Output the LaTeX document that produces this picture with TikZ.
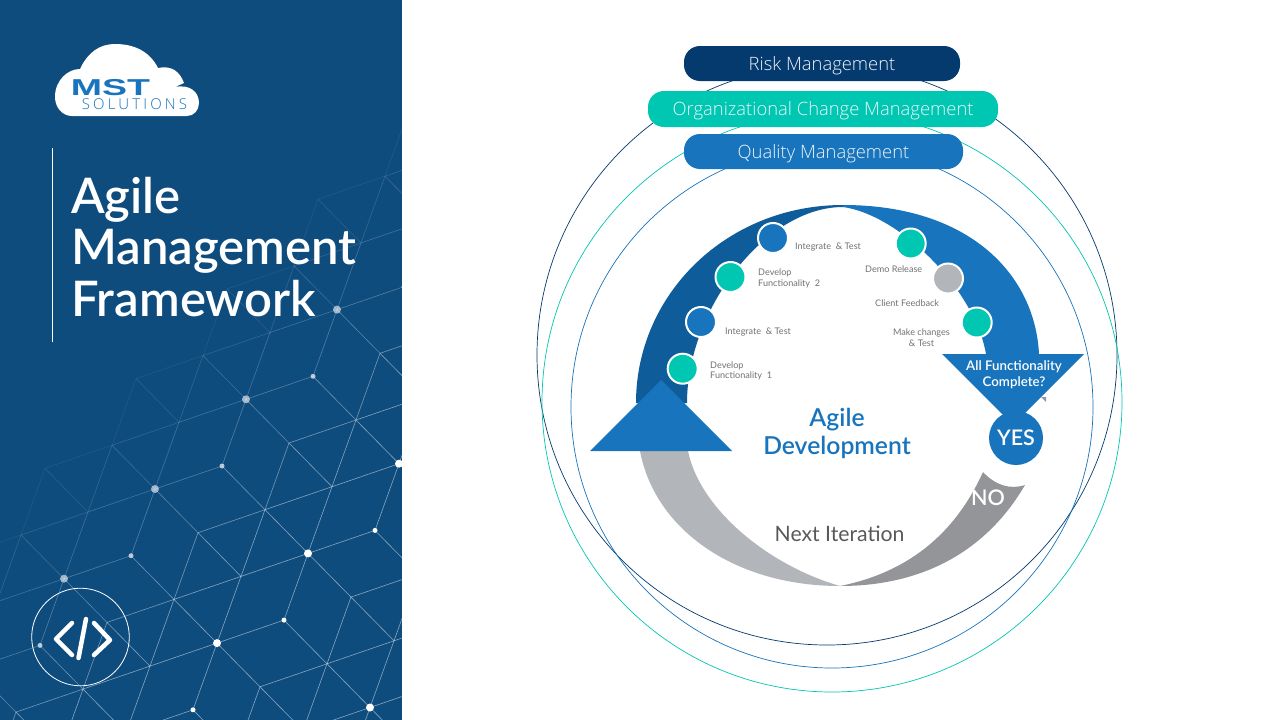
\documentclass[tikz,border=0pt]{standalone}
\usepackage{fontspec}
\usepackage{graphicx}
\setmainfont{Lato}
\newfontfamily\medfont{Lato Semibold}
\newfontfamily\pillfont{Open Sans Light}
\newfontfamily\logomark{Liberation Sans}
\newfontfamily\logothin[LetterSpace=21]{Open Sans Light}
\usetikzlibrary{arrows.meta, positioning}
\definecolor{panelblue}{HTML}{0F4C7E}
\definecolor{navy}{HTML}{043A6E}
\definecolor{teal}{HTML}{00C7B1}
\definecolor{agile}{HTML}{1874BC}
\definecolor{agiledark}{HTML}{0E5C9A}
\definecolor{iterlight}{HTML}{B2B6BA}
\definecolor{iterdark}{HTML}{939598}
\definecolor{labelgray}{HTML}{58595B}
\tikzset{
    pill/.style={rounded corners=16pt, inner sep=0pt, text=white!92!agile,
        text height=17.5pt, text depth=4pt,
        font=\pillfont\fontsize{18.4}{20}\selectfont},
    stepdot/.style={circle, draw=white, line width=2pt, minimum size=30pt, inner sep=0pt},
    steplabel/.style={font=\fontsize{9.1}{10.5}\selectfont, text=labelgray!85, inner sep=0pt},
    ringline/.style={line width=0.7pt},
    netline/.style={white, line width=0.6pt},
}
\begin{document}
\begin{tikzpicture}[x=1pt, y=-1pt]
    \useasboundingbox (0,0) rectangle (1280,720);
    \fill[white] (0,0) rectangle (1280,720);

    % Left panel with lattice
    \fill[panelblue] (0,0) rectangle (402,720);
    \begin{scope}
        \clip (0,0) rectangle (402,720);
        \foreach \m in {-9,...,12} {
            \foreach \n in {-9,...,11} {
                \pgfmathsetmacro{\xa}{155+24*\m+43*\n}
                \pgfmathsetmacro{\ya}{489-66.7*\m+43.7*\n}
                \pgfmathtruncatemacro{\k}{mod(\m+3*\n+100,5)}
                \foreach \dm/\dn/\gap in {1/1/4, 1/0/3, 0/1/1} {
                    \pgfmathsetmacro{\xb}{\xa+24*\dm+43*\dn}
                    \pgfmathsetmacro{\yb}{\ya-66.7*\dm+43.7*\dn}
                    \pgfmathsetmacro{\low}{min(\xa+\ya,\xb+\yb)}
                    \pgfmathsetmacro{\op}{min(0.5,max(0.07,((\xa+\ya+\xb+\yb)/2-490)/620))}
                    \ifnum\k=\gap\else
                        \pgfmathparse{\low>510 ? 1 : 0}
                        \ifnum\pgfmathresult=1
                            \draw[netline, opacity=\op] (\xa,\ya) -- (\xb,\yb);
                        \fi
                    \fi
                }
                % Dots at the joints
                \pgfmathparse{\xa+\ya>510 ? 1 : 0}
                \ifnum\pgfmathresult=1
                    \pgfmathsetmacro{\dotop}{min(1,(\xa+\ya-350)/500)}
                    \ifnum\k=0
                        \fill[white, opacity=\dotop] (\xa,\ya) circle (4pt);
                    \fi
                    \ifnum\k=4
                        \fill[white, opacity=\dotop] (\xa,\ya) circle (2.5pt);
                    \fi
                \fi
            }
        }
    \end{scope}

    % Logo
    \fill[white] (72,116) .. controls (62,116) and (55,107) .. (55,97)
        .. controls (55,80) and (68,69) .. (80,69)
        .. controls (88,52) and (100,44) .. (115,44)
        .. controls (135,44) and (150,52) .. (158,68)
        .. controls (172,65) and (180,72) .. (184,83)
        -- (175,87) .. controls (190,84) and (199,92) .. (199,103)
        .. controls (199,110) and (194,116) .. (187,116) -- cycle;
    \node[font=\logomark\bfseries\fontsize{23}{23}\selectfont, text=agile, inner sep=0pt] (logomst) at (110.5,87.5) {\scalebox{1.63}[1]{MST}};
    \node[font=\logothin\fontsize{15}{15}\selectfont, text=agile, inner sep=0pt] (logosol) at (134.5,104.5) {SOLUTIONS};

    % Title
    \draw[white, line width=0.8pt] (52.5,148) -- (52.5,342);
    \node[font=\medfont\fontsize{49}{51.5}\selectfont, text=white, align=left, anchor=west, inner sep=0pt] (title) at (71,247) {Agile\\Management\\Framework};

    % Code icon
    \draw[white, line width=0.8pt] (80.5,637) circle (48.8pt);
    \draw[white, line width=4.5pt, line cap=round, line join=round]
        (72,623) -- (56,639) -- (72,655)
        (86,619) -- (78.5,658)
        (94,623) -- (110,640) -- (94,655);

    % Big circles
    \draw[navy, ringline] (827,355) circle (290pt);
    \draw[teal, ringline] (832,402) circle (290pt);
    \draw[agile, ringline] (832,407) circle (261pt);

    % Management bars
    \node[pill, fill=navy, minimum width=276pt, minimum height=35pt] (risk) at (822,63.5) {Risk Management};
    \node[pill, fill=teal, minimum width=350pt, minimum height=36pt] (change) at (823,109) {Organizational Change Management};
    \node[pill, fill=agile, minimum width=279pt, minimum height=35pt] (quality) at (823.5,151.5) {Quality Management};

    % Return arc
    \fill[iterlight] (640,451) .. controls (655,530) and (735,586) .. (840,586)
        .. controls (770,566) and (700,510) .. (688,451) -- cycle;
    \fill[iterdark] (840,586) .. controls (930,586) and (990,545) .. (1025,485)
        .. controls (1010,490) and (995,485) .. (983,472)
        .. controls (950,545) and (895,575) .. (840,586) -- cycle;

    % Forward arc
    \fill[agiledark] (636,403) .. controls (636,294) and (727,205) .. (843,205)
        -- (843,207) .. controls (765,207) and (687,310) .. (687,403) -- cycle;
    \fill[agile] (843,207) .. controls (900,215) and (975,290) .. (986,354)
        -- (1039,354) .. controls (1035,275) and (970,205) .. (843,205) -- cycle;
    \fill[agile] (661,380) -- (732,451) -- (590,451) -- cycle;
    \fill[agile] (942,354) -- (1084,354) -- (1013,425) -- cycle;
    \fill[iterdark] (1041,397) -- (1046,397) -- (1046,402) -- cycle;
    \node[circle, fill=agile, minimum size=54pt, inner sep=0pt, font=\medfont\fontsize{21.5}{21}\selectfont, text=white] (yes) at (1016,438) {YES};

    % Steps on the arc
    \node[stepdot, fill=teal] (dev1) at (682.7,368.7) {};
    \node[stepdot, fill=agile] (int1) at (701,322) {};
    \node[stepdot, fill=teal] (dev2) at (730.5,277) {};
    \node[stepdot, fill=agile] (int2) at (773,238) {};
    \node[stepdot, fill=teal] (demo) at (910.7,243.5) {};
    \node[stepdot, fill=iterlight] (feedback) at (948,278.5) {};
    \node[stepdot, fill=teal] (changes) at (976.7,322.5) {};

    % Step labels
    \node[steplabel, align=left, anchor=west] (ldev1) at (710,371) {Develop\\Functionality\ \ 1};
    \node[steplabel, anchor=west] (lint1) at (725,332.5) {Integrate\ \ \&\ Test};
    \node[steplabel, align=left, anchor=west] (ldev2) at (758,278.5) {Develop\\Functionality\ \ 2};
    \node[steplabel, anchor=west] (lint2) at (795,247.5) {Integrate\ \ \&\ Test};
    \node[steplabel, anchor=west] (ldemo) at (865,269.5) {Demo Release};
    \node[steplabel, anchor=west] (lfeed) at (875,303.5) {Client Feedback};
    \node[steplabel, align=center] (lmake) at (921.5,337.5) {Make changes\\\&\ Test};

    % Centre texts
    \node[font=\medfont\fontsize{13.3}{16}\selectfont, text=white, align=center, inner sep=0pt] (complete) at (1014,375) {All Functionality\\Complete?};
    \node[font=\medfont\fontsize{24.7}{28}\selectfont, text=agile, align=center, inner sep=0pt] (agiledev) at (837,433) {Agile\\Development};
    \node[font=\fontsize{21.2}{21}\selectfont, text=labelgray, inner sep=0pt] (next) at (839.5,533.5) {Next Iteration};
    \node[font=\medfont\fontsize{21.5}{21}\selectfont, text=white, inner sep=0pt] (no) at (988,497.5) {NO};
\end{tikzpicture}
\end{document}
